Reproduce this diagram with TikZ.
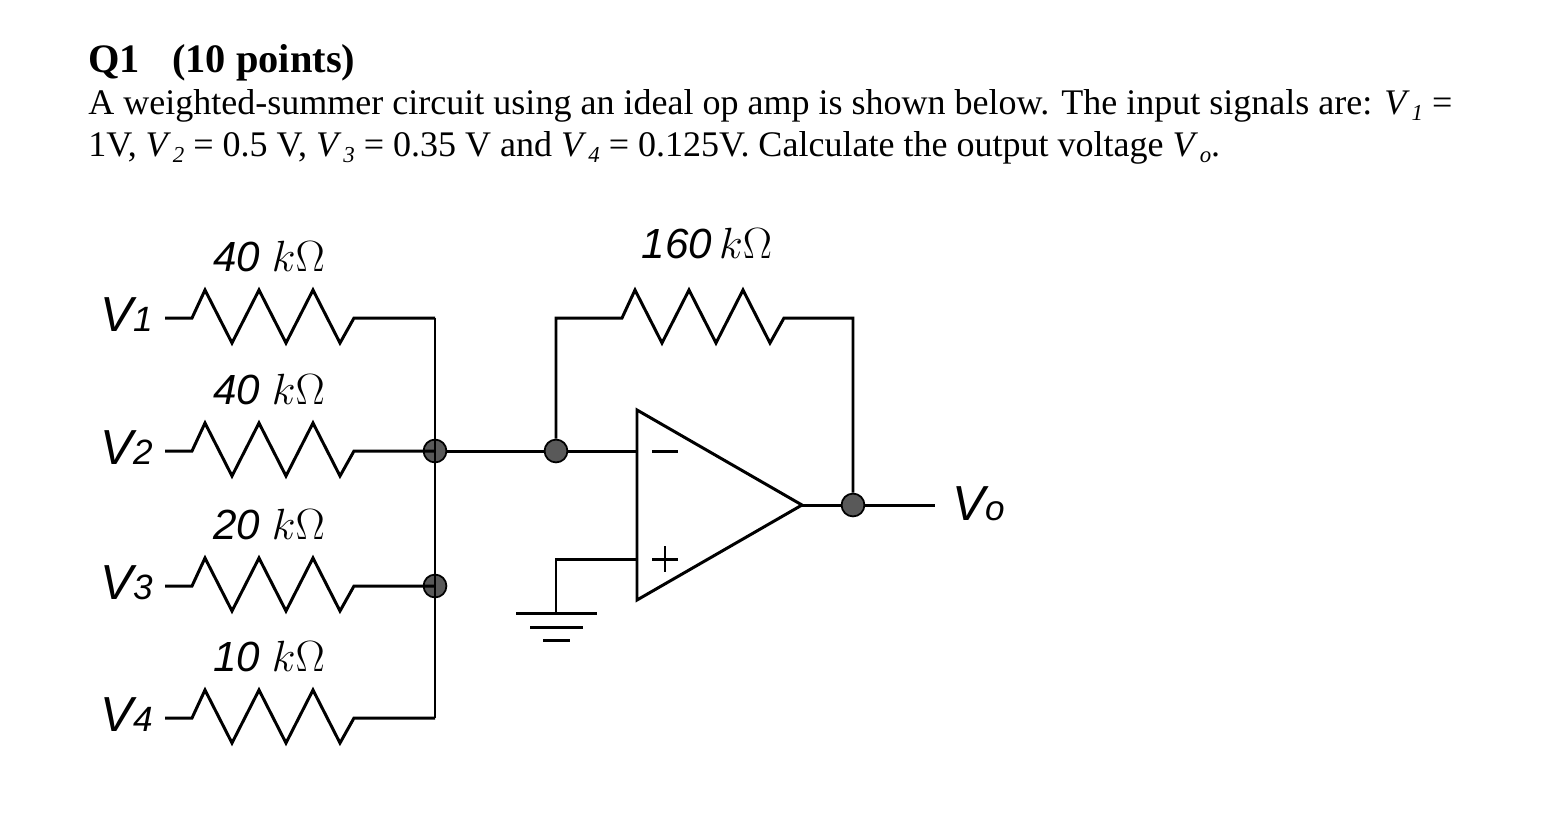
\documentclass[tikz,border=0pt]{standalone}
\usepackage{fontspec}
\setmainfont{Liberation Serif}
\newfontfamily\labelfont{Liberation Sans}
\usetikzlibrary{calc, positioning}
\tikzset{
	wire/.style={line width=1.7pt, line join=miter},
	dot/.style={circle, fill=black!65, draw=black, line width=1pt, inner sep=0pt, minimum size=13pt},
	rlabel/.style={font=\labelfont\itshape\fontsize{24}{26}\selectfont, anchor=base},
	vlabel/.style={font=\labelfont\itshape\fontsize{28}{30}\selectfont, anchor=base west},
	qtext/.style={anchor=base west, inner sep=0pt, font=\fontsize{20.5}{24}\selectfont}
}
\newcommand{\zigres}[1]{
	-- ++(27,0) -- ++(13,-28) -- ++(27,53) -- ++(27,-53) -- ++(27,53) -- ++(27,-53) -- ++(27,53) -- ++(14,-25)
}
\newcommand{\vsub}[1]{\textit{V}\kern1pt\raisebox{-0.4ex}{\fontsize{13}{14}\selectfont\textit{#1}}}
\begin{document}
\begin{tikzpicture}[x=0.02cm, y=-0.02cm]
	\useasboundingbox (0,0) rectangle (1543,826);

	% question text
	\node[qtext, font=\bfseries\fontsize{23}{26}\selectfont] (title) at (88,72) {Q1\hspace{0.8em}(10 points)};
	\node[qtext] (line1) at (88,114) {A weighted-summer circuit using an ideal op amp is shown below. The input signals are: \vsub{1} =};
	\node[qtext] (line2) at (88,156) {1V, \vsub{2} = 0.5 V, \vsub{3} = 0.35 V and \vsub{4} = 0.125V. Calculate the output voltage \vsub{o}.};

	% junctions
	\coordinate (j1) at (435,318);
	\coordinate (j4) at (435,718);
	\node[dot] (j2) at (435,451) {};
	\node[dot] (j3) at (435,586) {};
	\node[dot] (n) at (556,451) {};
	\node[dot] (out) at (853,505) {};

	% op amp
	\coordinate (oa top) at (637,410);
	\coordinate (oa bot) at (637,600);
	\coordinate (oa tip) at (802,505);
	\coordinate (inm) at (637,451);
	\coordinate (inp) at (637,559);
	\draw[wire] (oa top) -- (oa tip) -- (oa bot) -- cycle;
	\draw[line width=1.7pt] (652,451) -- (678,451);
	\draw[line width=1.7pt] (652,559) -- (678,559) (665,546) -- (665,572);

	% input resistors
	\foreach \y/\v/\r in {318/1/40, 451/2/40, 586/3/20, 718/4/10} {
		\node[vlabel] (v\v) at (94,\y+13) {V{\fontsize{20}{22}\selectfont\v}};
		\node[rlabel] (r\v) at (269,\y-47) {\r\ $k\Omega$};
		\draw[wire] (165,\y) \zigres{} -- (435,\y);
	}
	\draw[wire] (j1) -- (j4);
	\draw[wire] (j2) -- (n) -- (inm);

	% feedback
	\node[rlabel] (rf) at (707,258) {160\,$k\Omega$};
	\coordinate (fb l) at (556,318);
	\coordinate (fb r) at (853,318);
	\draw[wire] (n) -- (fb l) -- (595,318) \zigres{} -- (fb r) -- (out);

	% output
	\coordinate (vo end) at (935,505);
	\draw[wire] (oa tip) -- (out) -- (vo end);
	\node[vlabel] (vo) at (946,520) {V{\fontsize{20}{22}\selectfont o}};

	% ground
	\coordinate (gnd) at (556,613);
	\draw[wire] (inp) -- (556,559) -- (gnd);
	\draw[wire] (516,613) -- (597,613) (530,627) -- (583,627) (543,640) -- (570,640);
\end{tikzpicture}
\end{document}
